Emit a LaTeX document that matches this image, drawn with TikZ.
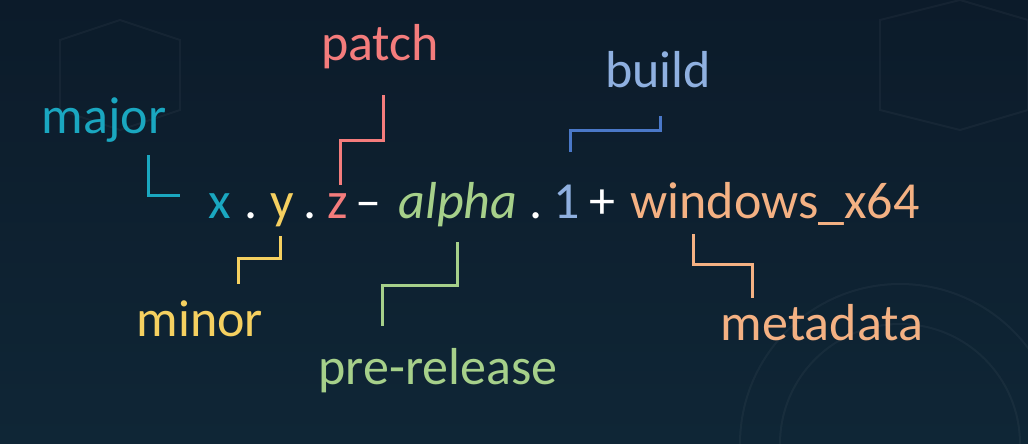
\documentclass[tikz,border=0pt]{standalone}
\usepackage{fontspec}
\setmainfont{Carlito}
\definecolor{bg}{HTML}{0C1B2A}
\definecolor{bgb}{HTML}{0F2636}
\definecolor{cx}{HTML}{1AA7C0}
\definecolor{cy}{HTML}{F5D060}
\definecolor{cz}{HTML}{F47C7C}
\definecolor{ca}{HTML}{A6D08A}
\definecolor{cb}{HTML}{8FB0E0}
\definecolor{cbl}{HTML}{4A78C8}
\definecolor{cw}{HTML}{F4B183}
\tikzset{
  tok/.style={inner sep=0pt, anchor=base, font=\fontsize{52}{56}\selectfont},
  lab/.style={inner sep=0pt, anchor=base, font=\fontsize{52}{56}\selectfont},
  brk/.style={line width=3pt}
}
\begin{document}
\begin{tikzpicture}[x=1pt,y=-1pt]
\useasboundingbox (0,0) rectangle (1028,444);
\shade[top color=bg, bottom color=bgb] (0,0) rectangle (1028,444);
\begin{scope}[draw=white, opacity=0.04, line width=2pt]
\draw (60,40) -- (120,20) -- (180,40) -- (180,110) -- (120,130) -- (60,110) -- cycle;
\draw (880,20) -- (960,0) -- (1028,20) -- (1028,110) -- (960,130) -- (880,110) -- cycle;
\draw (900,444) circle (160);
\draw (900,444) circle (120);
\end{scope}
% main line
\node[tok, text=cx] (x) at (220,218) {x};
\node[tok, text=white] (d1) at (251,218) {.};
\node[tok, text=cy] (y) at (282,218) {y};
\node[tok, text=white] (d2) at (310,218) {.};
\node[tok, text=cz] (z) at (338,218) {z};
\node[tok, text=white] (dash) at (368,218) {–};
\node[tok, text=ca] (al) at (458,218) {\itshape alpha};
\node[tok, text=white] (d3) at (536,218) {.};
\node[tok, text=cb] (one) at (567,218) {1};
\node[tok, text=white] (plus) at (602,218) {+};
\node[tok, text=cw] (win) at (775,218) {windows\_x64};
% labels
\node[lab, text=cx] (major) at (104,133) {major};
\node[lab, text=cz] (patch) at (380,60) {patch};
\node[lab, text=cb] (build) at (658,88) {build};
\node[lab, text=cy] (minor) at (200,336) {minor};
\node[lab, text=ca] (pre) at (438,384) {pre-release};
\node[lab, text=cw] (meta) at (822,340) {metadata};
% brackets
\draw[brk, cx] (148,155) -- (148,195) -- (180,195);
\draw[brk, cz] (383,95) -- (383,140) -- (340,140) -- (340,185);
\draw[brk, cbl] (570,152) -- (570,130) -- (660,130) -- (660,116);
\draw[brk, cy] (280,236) -- (280,258) -- (238,258) -- (238,284);
\draw[brk, ca] (457,242) -- (457,285) -- (382,285) -- (382,326);
\draw[brk, cw] (693,234) -- (693,264) -- (752,264) -- (752,298);
\end{tikzpicture}
\end{document}
